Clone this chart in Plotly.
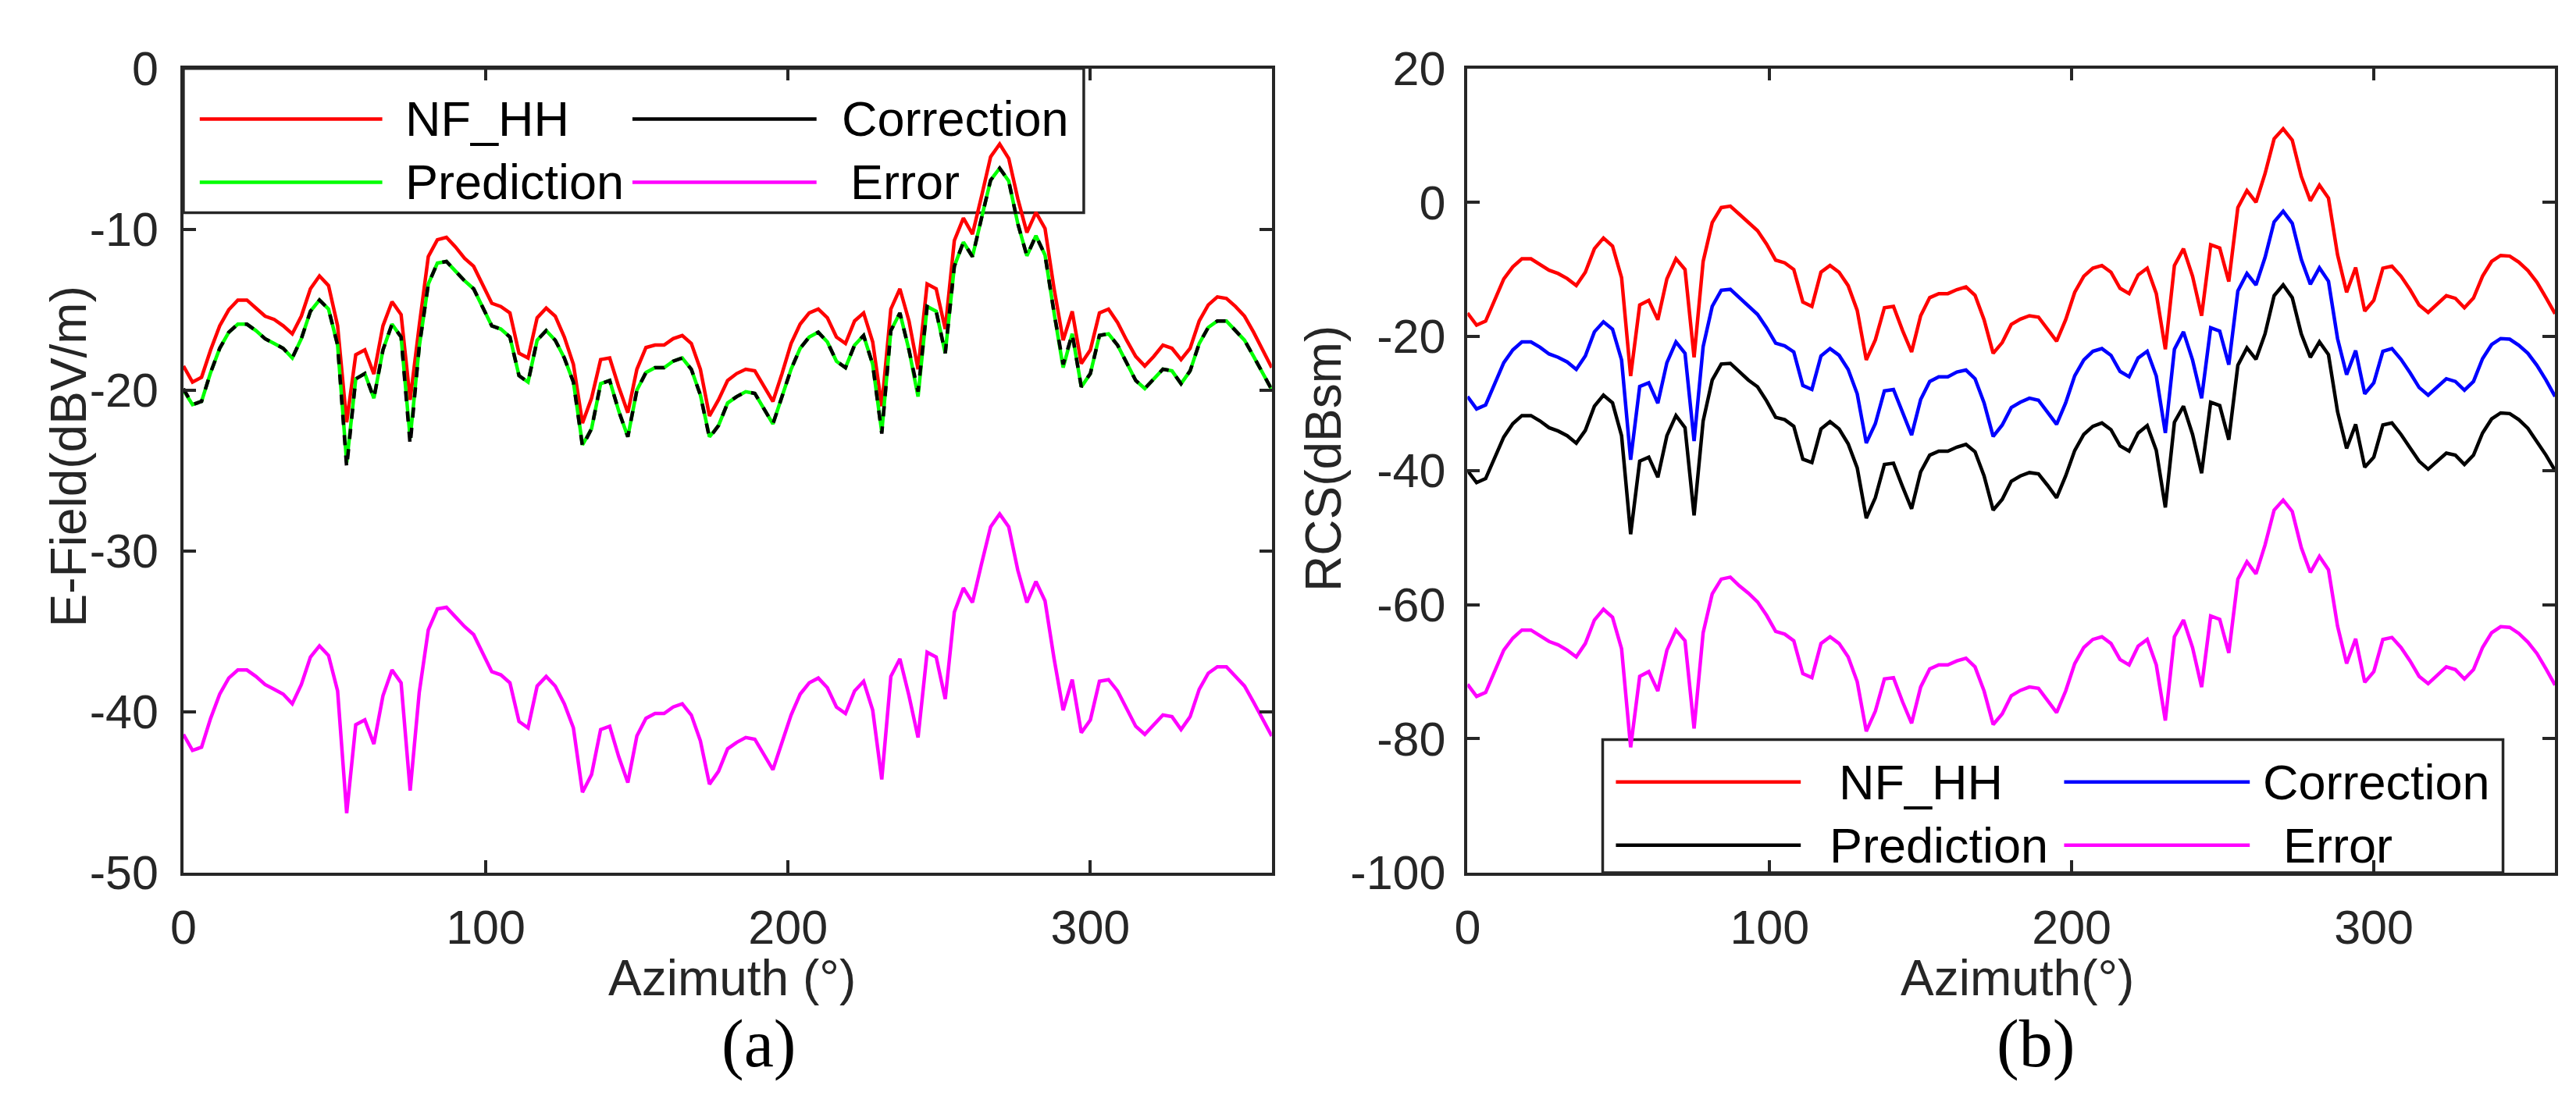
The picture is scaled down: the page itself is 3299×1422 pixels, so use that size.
import plotly.graph_objects as go

W, H = 3299, 1422

azimuth = list(range(0, 361, 3))

# ---------------- Panel (a): E-Field (dBV/m) ----------------
a_nf_hh = [-18.5, -19.5, -19.2, -17.5, -16.0, -15.0, -14.4, -14.4, -14.9, -15.4,
           -15.6, -16.0, -16.5, -15.4, -13.7, -12.9, -13.5, -16.0, -22.0, -17.8,
           -17.5, -19.0, -16.0, -14.5, -15.3, -20.6, -16.0, -11.7, -10.65, -10.5,
           -11.1, -11.8, -12.3, -13.4, -14.6, -14.8, -15.2, -17.7, -18.0, -15.5,
           -14.9, -15.4, -16.7, -18.4, -22.05, -20.5, -18.1, -18.0, -19.8, -21.4,
           -18.7, -17.35, -17.2, -17.2, -16.8, -16.6, -17.1, -18.7, -21.6, -20.6,
           -19.4, -18.97, -18.7, -18.8, -19.7, -20.7, -18.97, -17.1, -15.9, -15.2,
           -14.96, -15.5, -16.7, -17.1, -15.7, -15.2, -17.0, -21.0, -14.96, -13.7,
           -15.7, -18.7, -13.4, -13.7, -16.2, -10.7, -9.3, -10.3, -7.95, -5.5,
           -4.7, -5.6, -8.1, -10.2, -8.95, -9.95, -13.7, -16.9, -15.1, -18.35,
           -17.5, -15.2, -14.96, -15.8, -16.9, -17.9, -18.5, -17.9, -17.2, -17.4,
           -18.1, -17.4, -15.7, -14.7, -14.2, -14.3, -14.8, -15.4, -16.4, -17.5,
           -18.6]

a_correction = [-19.9, -20.9, -20.7, -18.9, -17.4, -16.4, -15.9, -15.9, -16.3, -16.8,
                -17.1, -17.4, -18.0, -16.8, -15.1, -14.4, -14.96, -17.2, -24.8, -19.3,
                -18.97, -20.5, -17.5, -15.9, -16.7, -23.4, -17.3, -13.4, -12.1, -12.0,
                -12.6, -13.2, -13.7, -14.8, -16.0, -16.2, -16.7, -19.1, -19.5, -16.9,
                -16.3, -16.9, -18.0, -19.5, -23.5, -22.4, -19.6, -19.4, -21.3, -22.9,
                -20.0, -18.9, -18.6, -18.6, -18.2, -18.0, -18.7, -20.3, -22.97, -22.2,
                -20.8, -20.4, -20.1, -20.2, -21.1, -22.1, -20.4, -18.7, -17.4, -16.7,
                -16.4, -17.0, -18.2, -18.6, -17.2, -16.6, -18.4, -22.7, -16.3, -15.2,
                -17.5, -20.1, -14.8, -15.1, -17.7, -12.3, -10.8, -11.7, -9.3, -6.95,
                -6.2, -7.0, -9.65, -11.65, -10.4, -11.6, -15.2, -18.4, -16.5, -19.8,
                -18.97, -16.6, -16.5, -17.2, -18.3, -19.4, -19.9, -19.3, -18.7, -18.8,
                -19.6, -18.8, -17.1, -16.1, -15.7, -15.7, -16.3, -16.9, -17.9, -18.9,
                -19.97]

a_prediction = [-20.0, -20.9, -20.7, -18.9, -17.4, -16.4, -15.9, -15.9, -16.3, -16.8,
                -17.1, -17.4, -18.0, -16.8, -15.1, -14.4, -14.96, -17.2, -24.5, -19.3,
                -18.97, -20.5, -17.5, -15.9, -16.7, -23.0, -17.3, -13.4, -12.1, -12.0,
                -12.6, -13.2, -13.7, -14.8, -16.0, -16.2, -16.7, -19.1, -19.5, -16.9,
                -16.3, -16.9, -18.0, -19.5, -23.4, -22.4, -19.6, -19.4, -21.3, -22.9,
                -20.0, -18.9, -18.6, -18.6, -18.2, -18.0, -18.7, -20.3, -22.9, -22.2,
                -20.8, -20.4, -20.1, -20.2, -21.1, -22.1, -20.4, -18.7, -17.4, -16.7,
                -16.4, -17.0, -18.2, -18.6, -17.2, -16.6, -18.4, -22.6, -16.3, -15.2,
                -17.5, -20.4, -14.8, -15.1, -17.7, -12.3, -10.8, -11.7, -9.3, -6.95,
                -6.2, -7.0, -9.65, -11.65, -10.4, -11.6, -15.2, -18.6, -16.5, -19.8,
                -18.97, -16.6, -16.5, -17.2, -18.3, -19.4, -19.9, -19.3, -18.7, -18.8,
                -19.6, -18.8, -17.1, -16.1, -15.7, -15.7, -16.3, -16.9, -17.9, -18.9,
                -19.97]

a_error = [-41.4, -42.4, -42.2, -40.4, -38.9, -37.9, -37.4, -37.4, -37.8, -38.3,
           -38.6, -38.9, -39.5, -38.3, -36.6, -35.9, -36.5, -38.7, -46.3, -40.8,
           -40.5, -42.0, -39.0, -37.4, -38.2, -44.9, -38.8, -34.9, -33.6, -33.5,
           -34.1, -34.7, -35.2, -36.3, -37.5, -37.7, -38.2, -40.6, -41.0, -38.4,
           -37.8, -38.4, -39.5, -41.0, -45.0, -43.9, -41.1, -40.9, -42.8, -44.4,
           -41.5, -40.4, -40.1, -40.1, -39.7, -39.5, -40.2, -41.8, -44.5, -43.7,
           -42.3, -41.9, -41.6, -41.7, -42.6, -43.6, -41.9, -40.2, -38.9, -38.2,
           -37.9, -38.5, -39.7, -40.1, -38.7, -38.1, -39.9, -44.2, -37.8, -36.7,
           -39.0, -41.6, -36.3, -36.6, -39.2, -33.8, -32.3, -33.2, -30.8, -28.5,
           -27.7, -28.5, -31.2, -33.2, -31.9, -33.1, -36.7, -39.9, -38.0, -41.3,
           -40.5, -38.1, -38.0, -38.7, -39.8, -40.9, -41.4, -40.8, -40.2, -40.3,
           -41.1, -40.3, -38.6, -37.6, -37.2, -37.2, -37.8, -38.4, -39.4, -40.4,
           -41.5]

# ---------------- Panel (b): RCS (dBsm) ----------------
b_nf_hh = [-16.5, -18.3, -17.7, -14.65, -11.4, -9.6, -8.4, -8.4, -9.2, -10.1,
           -10.6, -11.35, -12.4, -10.4, -6.9, -5.3, -6.5, -11.2, -25.9, -15.3,
           -14.6, -17.5, -11.4, -8.4, -10.0, -23.1, -8.8, -3.0, -0.76, -0.55,
           -1.76, -2.9, -4.2, -6.2, -8.6, -9.0, -10.0, -14.85, -15.5, -10.4,
           -9.4, -10.4, -12.4, -16.1, -23.5, -20.5, -15.7, -15.5, -19.1, -22.3,
           -16.9, -14.2, -13.6, -13.6, -13.0, -12.6, -13.85, -17.5, -22.5, -20.9,
           -18.2, -17.4, -16.9, -17.1, -18.9, -20.7, -17.5, -13.4, -11.0, -9.8,
           -9.4, -10.4, -12.8, -13.6, -10.8, -9.8, -13.6, -21.9, -9.4, -6.9,
           -11.0, -16.9, -6.3, -6.8, -11.8, -0.76, 1.78, 0.04, 4.3, 9.5,
           11.0, 9.3, 3.9, 0.25, 2.6, 0.65, -7.8, -13.4, -9.7, -16.2,
           -14.6, -9.8, -9.5, -11.0, -13.0, -15.3, -16.4, -15.1, -13.9, -14.3,
           -15.7, -14.25, -11.0, -8.8, -7.9, -8.0, -8.9, -10.15, -11.9, -14.2,
           -16.6]

b_correction = [-28.95, -30.8, -30.2, -27.1, -23.9, -22.0, -20.8, -20.8, -21.6, -22.6,
                -23.1, -23.8, -24.9, -22.9, -19.3, -17.8, -18.9, -23.5, -38.4, -27.45,
                -26.9, -29.95, -23.9, -20.8, -22.5, -35.6, -21.5, -15.5, -13.1, -12.96,
                -14.25, -15.5, -16.7, -18.7, -21.0, -21.4, -22.3, -27.3, -27.9, -22.9,
                -21.8, -22.8, -24.9, -28.55, -35.9, -33.0, -28.1, -27.9, -31.4, -34.7,
                -29.4, -26.7, -26.0, -26.0, -25.3, -25.0, -26.3, -29.9, -34.9, -33.2,
                -30.6, -29.8, -29.2, -29.5, -31.3, -33.1, -29.9, -25.85, -23.5, -22.2,
                -21.8, -22.8, -25.2, -26.0, -23.2, -22.2, -25.9, -34.4, -21.9, -19.3,
                -23.5, -29.2, -18.7, -19.2, -24.2, -13.2, -10.6, -12.3, -8.2, -2.9,
                -1.3, -3.1, -8.5, -12.2, -9.75, -11.75, -20.3, -25.7, -22.1, -28.55,
                -26.9, -22.2, -21.8, -23.4, -25.4, -27.6, -28.75, -27.5, -26.3, -26.7,
                -28.0, -26.7, -23.3, -21.2, -20.3, -20.4, -21.3, -22.5, -24.3, -26.5,
                -28.95]

b_prediction = [-40.0, -41.8, -41.2, -38.2, -35.0, -33.0, -31.8, -31.8, -32.6, -33.6,
                -34.1, -34.8, -35.9, -34.0, -30.4, -28.75, -29.9, -34.8, -49.5, -38.6,
                -38.0, -41.0, -34.8, -31.8, -33.6, -46.7, -32.6, -26.5, -24.1, -24.0,
                -25.3, -26.5, -27.5, -29.6, -32.05, -32.4, -33.4, -38.3, -38.8, -33.8,
                -32.7, -33.8, -36.0, -39.6, -47.1, -44.05, -39.1, -38.9, -42.4, -45.7,
                -40.2, -37.7, -37.1, -37.1, -36.5, -36.1, -37.2, -40.8, -45.9, -44.3,
                -41.6, -40.8, -40.3, -40.5, -42.2, -44.05, -40.8, -37.0, -34.6, -33.4,
                -32.9, -33.9, -36.3, -37.1, -34.4, -33.3, -37.0, -45.5, -32.8, -30.4,
                -34.6, -40.4, -29.8, -30.3, -35.4, -24.3, -21.7, -23.4, -19.6, -13.9,
                -12.3, -14.2, -19.6, -23.1, -20.8, -22.7, -31.2, -36.7, -33.1, -39.5,
                -38.0, -33.2, -32.9, -34.6, -36.6, -38.6, -39.8, -38.6, -37.4, -37.7,
                -39.1, -37.7, -34.4, -32.3, -31.4, -31.5, -32.4, -33.7, -35.6, -37.7,
                -40.0]

b_error = [-71.9, -73.7, -73.1, -70.1, -66.8, -65.0, -63.8, -63.8, -64.6, -65.5,
           -66.0, -66.8, -67.8, -65.8, -62.3, -60.7, -61.9, -66.6, -81.3, -70.7,
           -70.0, -72.9, -66.8, -63.8, -65.4, -78.5, -64.2, -58.4, -56.2, -55.9,
           -57.2, -58.3, -59.6, -61.6, -64.0, -64.4, -65.4, -70.3, -70.9, -65.8,
           -64.8, -65.8, -67.8, -71.5, -78.9, -75.9, -71.1, -70.9, -74.5, -77.7,
           -72.3, -69.6, -69.0, -69.0, -68.4, -68.0, -69.3, -72.9, -77.9, -76.3,
           -73.6, -72.8, -72.3, -72.5, -74.3, -76.1, -72.9, -68.8, -66.4, -65.2,
           -64.8, -65.8, -68.2, -69.0, -66.2, -65.2, -69.0, -77.3, -64.8, -62.3,
           -66.4, -72.3, -61.7, -62.2, -67.2, -56.2, -53.6, -55.4, -51.1, -45.9,
           -44.4, -46.1, -51.5, -55.2, -52.8, -54.8, -63.2, -68.8, -65.1, -71.6,
           -70.0, -65.2, -64.9, -66.4, -68.4, -70.7, -71.8, -70.5, -69.3, -69.7,
           -71.1, -69.7, -66.4, -64.2, -63.3, -63.4, -64.3, -65.6, -67.3, -69.6,
           -72.0]

x_ticks = [0, 100, 200, 300]
x_tick_labels = ["0", "100", "200", "300"]
a_y_ticks = [-50, -40, -30, -20, -10, 0]
a_y_tick_labels = ["-50", "-40", "-30", "-20", "-10", "0"]
b_y_ticks = [-100, -80, -60, -40, -20, 0, 20]
b_y_tick_labels = ["-100", "-80", "-60", "-40", "-20", "0", "20"]

legend_a = [("NF_HH", "#FF0000"), ("Correction", "#000000"),
            ("Prediction", "#00FF00"), ("Error", "#FF00FF")]
legend_b = [("NF_HH", "#FF0000"), ("Correction", "#0000FF"),
            ("Prediction", "#000000"), ("Error", "#FF00FF")]

RED, GREEN, BLACK, BLUE, MAG = "#FF0000", "#00FF00", "#000000", "#0000FF", "#FF00FF"
LW = 4.5
AXC = "#262626"
SANS = "Liberation Sans, Arial, sans-serif"
SERIF = "Liberation Serif, Times New Roman, serif"

fig = go.Figure()

# panel a traces
fig.add_trace(go.Scatter(x=azimuth, y=a_nf_hh, mode="lines", line=dict(color=RED, width=LW),
                         xaxis="x", yaxis="y", showlegend=False))
fig.add_trace(go.Scatter(x=azimuth, y=a_prediction, mode="lines", line=dict(color=GREEN, width=LW),
                         xaxis="x", yaxis="y", showlegend=False))
fig.add_trace(go.Scatter(x=azimuth, y=a_correction, mode="lines",
                         line=dict(color=BLACK, width=LW, dash="13px,13px"),
                         xaxis="x", yaxis="y", showlegend=False))
fig.add_trace(go.Scatter(x=azimuth, y=a_error, mode="lines", line=dict(color=MAG, width=LW),
                         xaxis="x", yaxis="y", showlegend=False))

# panel b traces
fig.add_trace(go.Scatter(x=azimuth, y=b_nf_hh, mode="lines", line=dict(color=RED, width=LW),
                         xaxis="x2", yaxis="y2", showlegend=False))
fig.add_trace(go.Scatter(x=azimuth, y=b_correction, mode="lines", line=dict(color=BLUE, width=LW),
                         xaxis="x2", yaxis="y2", showlegend=False))
fig.add_trace(go.Scatter(x=azimuth, y=b_prediction, mode="lines", line=dict(color=BLACK, width=LW),
                         xaxis="x2", yaxis="y2", showlegend=False))
fig.add_trace(go.Scatter(x=azimuth, y=b_error, mode="lines", line=dict(color=MAG, width=LW),
                         xaxis="x2", yaxis="y2", showlegend=False))


def px_x(p):
    return p / W


def px_y(p):
    return 1 - p / H


ydom = [px_y(1130), px_y(48)]
axis_common = dict(showline=True, linecolor=AXC, linewidth=3.5, mirror="ticks",
                   ticks="inside", ticklen=16, tickwidth=3.5, tickcolor=AXC,
                   showgrid=False, zeroline=False, tickmode="array",
                   tickfont=dict(family=SANS, size=61, color=AXC))

fig.update_layout(
    width=W, height=H, margin=dict(l=0, r=0, t=0, b=0),
    paper_bgcolor="white", plot_bgcolor="rgba(0,0,0,0)",
    xaxis=dict(domain=[px_x(211), px_x(1612)], range=[0, 360], tickvals=x_ticks,
               ticktext=x_tick_labels, anchor="y", ticklabelstandoff=14, **axis_common),
    yaxis=dict(domain=ydom, range=[-50, 0], tickvals=a_y_ticks, ticktext=a_y_tick_labels,
               anchor="x", ticklabelstandoff=16, **axis_common),
    xaxis2=dict(domain=[px_x(1864), px_x(3264)], range=[0, 360], tickvals=x_ticks,
                ticktext=x_tick_labels, anchor="y2", ticklabelstandoff=14, **axis_common),
    yaxis2=dict(domain=ydom, range=[-100, 20], tickvals=b_y_ticks, ticktext=b_y_tick_labels,
                anchor="x2", ticklabelstandoff=12, **axis_common),
    showlegend=False,
)

annotations = []
shapes = []


def text(x, y, s, size, family=SANS, color=AXC, angle=0, xanchor="center"):
    annotations.append(dict(x=px_x(x), y=px_y(y), xref="paper", yref="paper", text=s,
                            showarrow=False, textangle=angle, xanchor=xanchor, yanchor="middle",
                            font=dict(family=family, size=size, color=color)))


# axis titles
text(63, 570, "E-Field(dBV/m)", 64, angle=-90)
text(1678, 573, "RCS(dBsm)", 64, angle=-90)
text(917, 1272, "Azimuth (°)", 64)
text(2572, 1272, "Azimuth(°)", 64)
text(951, 1360, "(a)", 86, family=SERIF, color="#000000")
text(2595, 1360, "(b)", 86, family=SERIF, color="#000000")


def legend(box, rows, cols, entries, text_x):
    x0, y0, x1, y1 = box
    shapes.append(dict(type="rect", xref="paper", yref="paper", x0=px_x(x0), x1=px_x(x1),
                       y0=px_y(y1), y1=px_y(y0), line=dict(color=AXC, width=3.5),
                       fillcolor="rgba(0,0,0,0)", layer="below"))
    for i, (name, color) in enumerate(entries):
        r, c = divmod(i, 2)
        lx0, lx1 = cols[c]
        yy = rows[r]
        shapes.append(dict(type="line", xref="paper", yref="paper", x0=px_x(lx0), x1=px_x(lx1),
                           y0=px_y(yy), y1=px_y(yy), line=dict(color=color, width=LW),
                           layer="below"))
        text(text_x[i], yy, name, 63, color="#000000", xanchor="left")


legend((211, 48, 1370, 242), [116, 201], [(232, 467), (789, 1026)], legend_a,
       [495, 1056, 495, 1067])
legend((2038, 951, 3197, 1130), [1008, 1093], [(2055, 2293), (2632, 2871)], legend_b,
       [2340, 2886, 2328, 2912])

fig.update_layout(annotations=annotations, shapes=shapes)
fig.write_html("out.html")
